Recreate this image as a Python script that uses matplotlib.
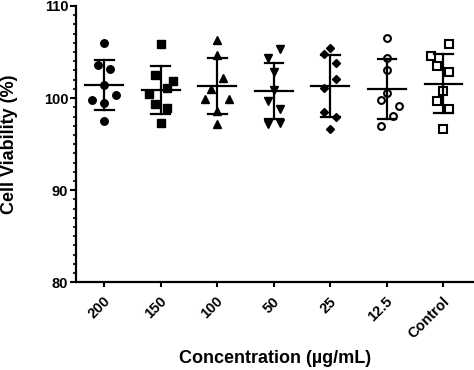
import matplotlib
matplotlib.use("Agg")
import matplotlib.pyplot as plt
import matplotlib.transforms as mtransforms
from matplotlib.ticker import MultipleLocator


plt.rcParams["font.family"] = ["Liberation Sans", "DejaVu Sans"]
plt.rcParams["font.weight"] = "bold"


# ---- data ----
categories = ["200", "150", "100", "50", "25", "12.5", "Control"]

viability_200 = [106.0, 103.64, 103.13, 101.47, 99.84, 100.35, 99.43, 97.52]
viability_150 = [105.89, 102.52, 101.83, 101.1, 100.41, 99.33, 98.97, 97.26]
viability_100 = [106.28, 104.73, 102.23, 101.0, 99.87, 99.87, 98.64, 97.15]
viability_50 = [105.35, 104.4, 102.85, 100.9, 99.7, 98.86, 97.15, 97.3]
viability_25 = [105.49, 104.76, 103.86, 102.12, 101.07, 98.5, 97.99, 96.65]
viability_12_5 = [106.5, 104.37, 103.07, 100.57, 99.84, 99.11, 98.1, 97.01]
viability_control = [105.85, 104.62, 103.46, 102.85, 100.74, 99.65, 98.83, 96.65]

mean_values = [101.47, 100.92, 101.33, 100.78, 101.28, 101.03, 101.58]
sd_values = [2.72, 2.61, 3.02, 3.08, 3.37, 3.26, 3.18]

groups = [
    viability_200,
    viability_150,
    viability_100,
    viability_50,
    viability_25,
    viability_12_5,
    viability_control,
]


# ---- layout / style ----
# scatter slot of each point (GraphPad-like spreading of overlapping points)
SLOTS = [
    [0, -1, 1, 0, -2, 2, 0, 0],
    [0, -1, 2, 1, -2, -1, 1, 0],
    [0, 0, 1, -1, -2, 2, 0, 0],
    [1, -1, 0, 0, -1, 1, -1, 1],
    [0, -1, 1, 1, -1, -1, 1, 0],
    [0, 0, 0, 0, -1, 2, 1, -1],
    [1, -2, -1, 1, 0, -1, 1, 0],
]
SLOT_STEP = 0.106
MEAN_HALF = 0.335
CAP_HALF = 0.165
LW = 1.6

# marker, size, filled
MARKERS = [
    ("o", 5.4, True),
    ("s", 5.3, True),
    ("^", 5.3, True),
    ("v", 5.3, True),
    ("D", 3.6, True),
    ("o", 4.9, False),
    ("s", 5.2, False),
]


def main():
    fig = plt.figure(figsize=(4.74, 3.70), dpi=100)
    ax = fig.add_axes([76 / 474, 1 - 282.3 / 370, (474 - 76) / 474, (282.3 - 6) / 370])

    for i, vals in enumerate(groups):
        xs = [i + s * SLOT_STEP for s in SLOTS[i]]
        marker, ms, filled = MARKERS[i]
        ax.plot(
            xs,
            vals,
            linestyle="none",
            marker=marker,
            markersize=ms,
            markerfacecolor="black" if filled else "white",
            markeredgecolor="black",
            markeredgewidth=1.0 if filled else 1.5,
            zorder=2,
            clip_on=False,
        )

        m = mean_values[i]
        sd = sd_values[i]
        ax.plot([i - MEAN_HALF, i + MEAN_HALF], [m, m], color="black", lw=LW, zorder=3)
        ax.plot([i, i], [m - sd, m + sd], color="black", lw=LW, zorder=3)
        for y in (m - sd, m + sd):
            ax.plot([i - CAP_HALF, i + CAP_HALF], [y, y], color="black", lw=LW, zorder=3)

    ax.set_xlim(-0.5, 6.54)
    ax.set_ylim(80, 110)

    ax.spines["top"].set_visible(False)
    ax.spines["right"].set_visible(False)
    ax.spines["left"].set_linewidth(1.6)
    ax.spines["bottom"].set_linewidth(1.6)

    ax.yaxis.set_major_locator(MultipleLocator(10))
    ax.yaxis.set_minor_locator(MultipleLocator(1))
    ax.tick_params(axis="y", which="major", length=4.3, width=1.5, pad=1.3, labelsize=10.5)
    ax.tick_params(axis="y", which="minor", length=2.2, width=1.2)

    ax.set_xticks(range(len(categories)))
    ax.set_xticklabels(categories, fontsize=10.5, fontweight="bold")
    ax.tick_params(axis="x", which="major", length=3.6, width=1.5, pad=8.6)
    ax.tick_params(axis="x", which="minor", bottom=False)
    shift = mtransforms.ScaledTranslation(2.5 / 72, 0, fig.dpi_scale_trans)
    for lab in ax.get_xticklabels():
        lab.set_rotation(45)
        lab.set_rotation_mode("anchor")
        lab.set_ha("right")
        lab.set_va("center")
        lab.set_transform(lab.get_transform() + shift)
    for lab in ax.get_yticklabels():
        lab.set_fontweight("bold")

    ax.set_xlabel("Concentration (µg/mL)", fontsize=13, fontweight="bold")
    ax.set_ylabel("Cell Viability (%)", fontsize=13, fontweight="bold")
    ax.xaxis.set_label_coords(0.5, -0.245)
    ax.yaxis.set_label_coords(-0.146, 0.5)

    fig.savefig("out.png", dpi=100)
    plt.close(fig)


if __name__ == "__main__":
    main()
